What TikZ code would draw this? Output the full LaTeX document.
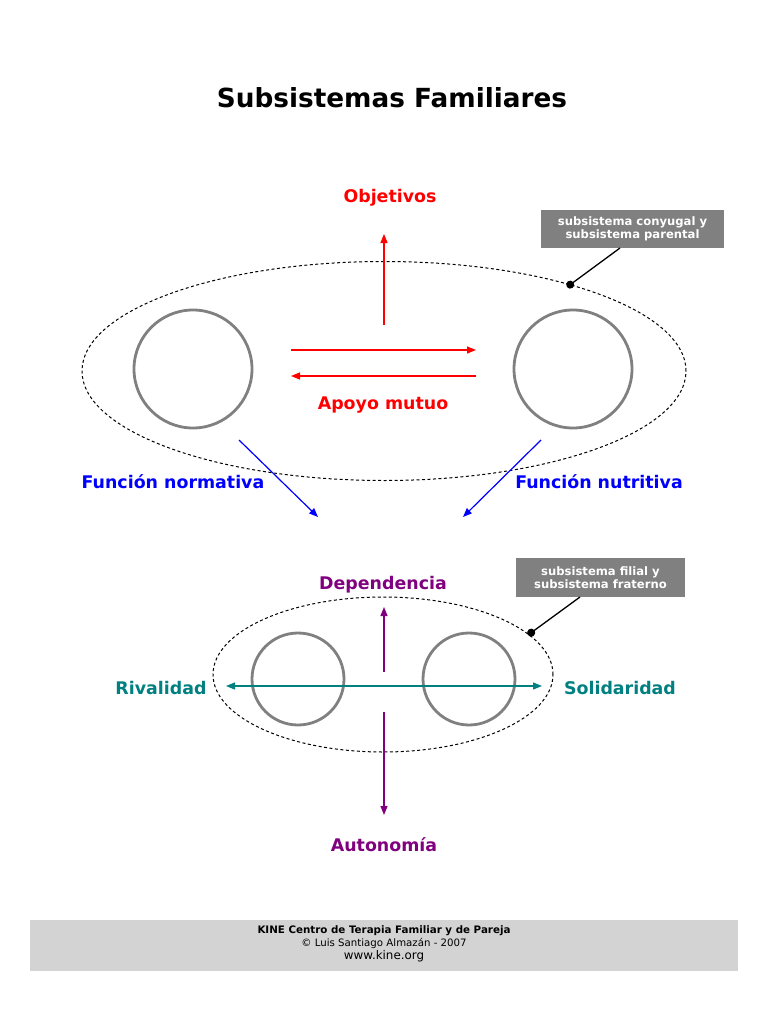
\documentclass[tikz,border=0pt]{standalone}
\usepackage{fontspec}
\setmainfont{DejaVu Sans}
\usepackage{tikz}
\usetikzlibrary{arrows.meta,positioning,shapes.geometric}
\definecolor{labelred}{RGB}{255,0,0}
\definecolor{labelblue}{RGB}{0,0,255}
\definecolor{labelpurple}{RGB}{128,0,128}
\definecolor{labelteal}{RGB}{0,128,128}
\definecolor{ringgray}{RGB}{128,128,128}
\definecolor{notegray}{RGB}{128,128,128}
\definecolor{footgray}{RGB}{211,211,211}

\begin{document}
\begin{tikzpicture}[
    x=1pt, y=-1pt,
    member/.style={circle, draw=ringgray, line width=2.8pt, inner sep=0pt},
    group/.style={ellipse, draw, dashed, dash pattern=on 3pt off 2.5pt, line width=1pt, inner sep=0pt},
    lbl/.style={font=\fontsize{17.4}{20}\selectfont\bfseries},
    note/.style={fill=notegray, text=white, font=\fontsize{11.6}{12.5}\selectfont\bfseries, align=center, inner sep=0pt},
    flow/.style={line width=1.2pt, -{Triangle[length=9pt,width=7pt]}},
    pin/.style={line width=1.3pt, {Circle[length=8pt]}-}
]
\useasboundingbox (0,0) rectangle (768,1024);

% title
\node[font=\fontsize{26.3}{30}\selectfont\bfseries] (title) at (392,98) {Subsistemas Familiares};

% upper subsystem
\node[group, minimum width=604pt, minimum height=219pt] (upper) at (384,371) {};
\node[member, minimum size=118pt] (spouseA) at (193,369) {};
\node[member, minimum size=118pt] (spouseB) at (573,369) {};

\node[lbl, text=labelred] (goals) at (390,198) {Objetivos};
\node[lbl, text=labelred] (support) at (383,405) {Apoyo mutuo};
\coordinate (goalsFoot) at (384,325);
\coordinate (goalsTip) at (384,234);
\coordinate (toRightA) at (291,350);
\coordinate (toRightB) at (476,350);
\coordinate (toLeftA) at (476,376);
\coordinate (toLeftB) at (291,376);
\draw[flow, labelred] (goalsFoot) -- (goalsTip);
\draw[flow, labelred] (toRightA) -- (toRightB);
\draw[flow, labelred] (toLeftA) -- (toLeftB);

\node[note, minimum width=183pt, minimum height=38pt] (noteUpper) at (632.5,229) {subsistema conyugal y\\subsistema parental};
\coordinate (pinUpper) at (567,287);
\draw[pin] (pinUpper) -- (620,248);

% functions
\node[lbl, text=labelblue] (normative) at (173,482) {Función normativa};
\node[lbl, text=labelblue] (nurture) at (599,482) {Función nutritiva};
\coordinate (normA) at (239,440);
\coordinate (normB) at (318,517);
\coordinate (nurtA) at (541,440);
\coordinate (nurtB) at (463,517);
\draw[flow, labelblue] (normA) -- (normB);
\draw[flow, labelblue] (nurtA) -- (nurtB);

% lower subsystem
\node[group, minimum width=340pt, minimum height=155pt] (lower) at (383,674.5) {};
\node[member, minimum size=92pt] (childA) at (298,679) {};
\node[member, minimum size=92pt] (childB) at (469,679) {};

\node[lbl, text=labelpurple] (depend) at (383,585) {Dependencia};
\node[lbl, text=labelpurple] (autonomy) at (384,845) {Autonomía};
\node[lbl, text=labelteal] (rivalry) at (161,688) {Rivalidad};
\node[lbl, text=labelteal] (solidarity) at (620,688) {Solidaridad};
\coordinate (depFoot) at (384,672);
\coordinate (depTip) at (384,607);
\coordinate (autFoot) at (384,712);
\coordinate (autTip) at (384,815);
\coordinate (rivTip) at (226,686);
\coordinate (solTip) at (542,686);
\draw[flow, labelpurple] (depFoot) -- (depTip);
\draw[flow, labelpurple] (autFoot) -- (autTip);
\draw[flow, labelteal, {Triangle[length=9pt,width=7pt]}-{Triangle[length=9pt,width=7pt]}] (rivTip) -- (solTip);

\node[note, minimum width=169pt, minimum height=39pt] (noteLower) at (600.5,577.5) {subsistema filial y\\subsistema fraterno};
\coordinate (pinLower) at (528,635);
\draw[pin] (pinLower) -- (580,597);

% footer
\node[fill=footgray, minimum width=708pt, minimum height=51pt, inner sep=0pt] (footer) at (384,945.5) {};
\node[font=\fontsize{10.3}{11}\selectfont\bfseries] (kine) at (384,931) {KINE Centro de Terapia Familiar y de Pareja};
\node[font=\fontsize{10.2}{11}\selectfont] (author) at (384,943) {© Luis Santiago Almazán - 2007};
\node[font=\fontsize{11.9}{13}\selectfont] (web) at (384,956) {www.kine.org};

\end{tikzpicture}
\end{document}
